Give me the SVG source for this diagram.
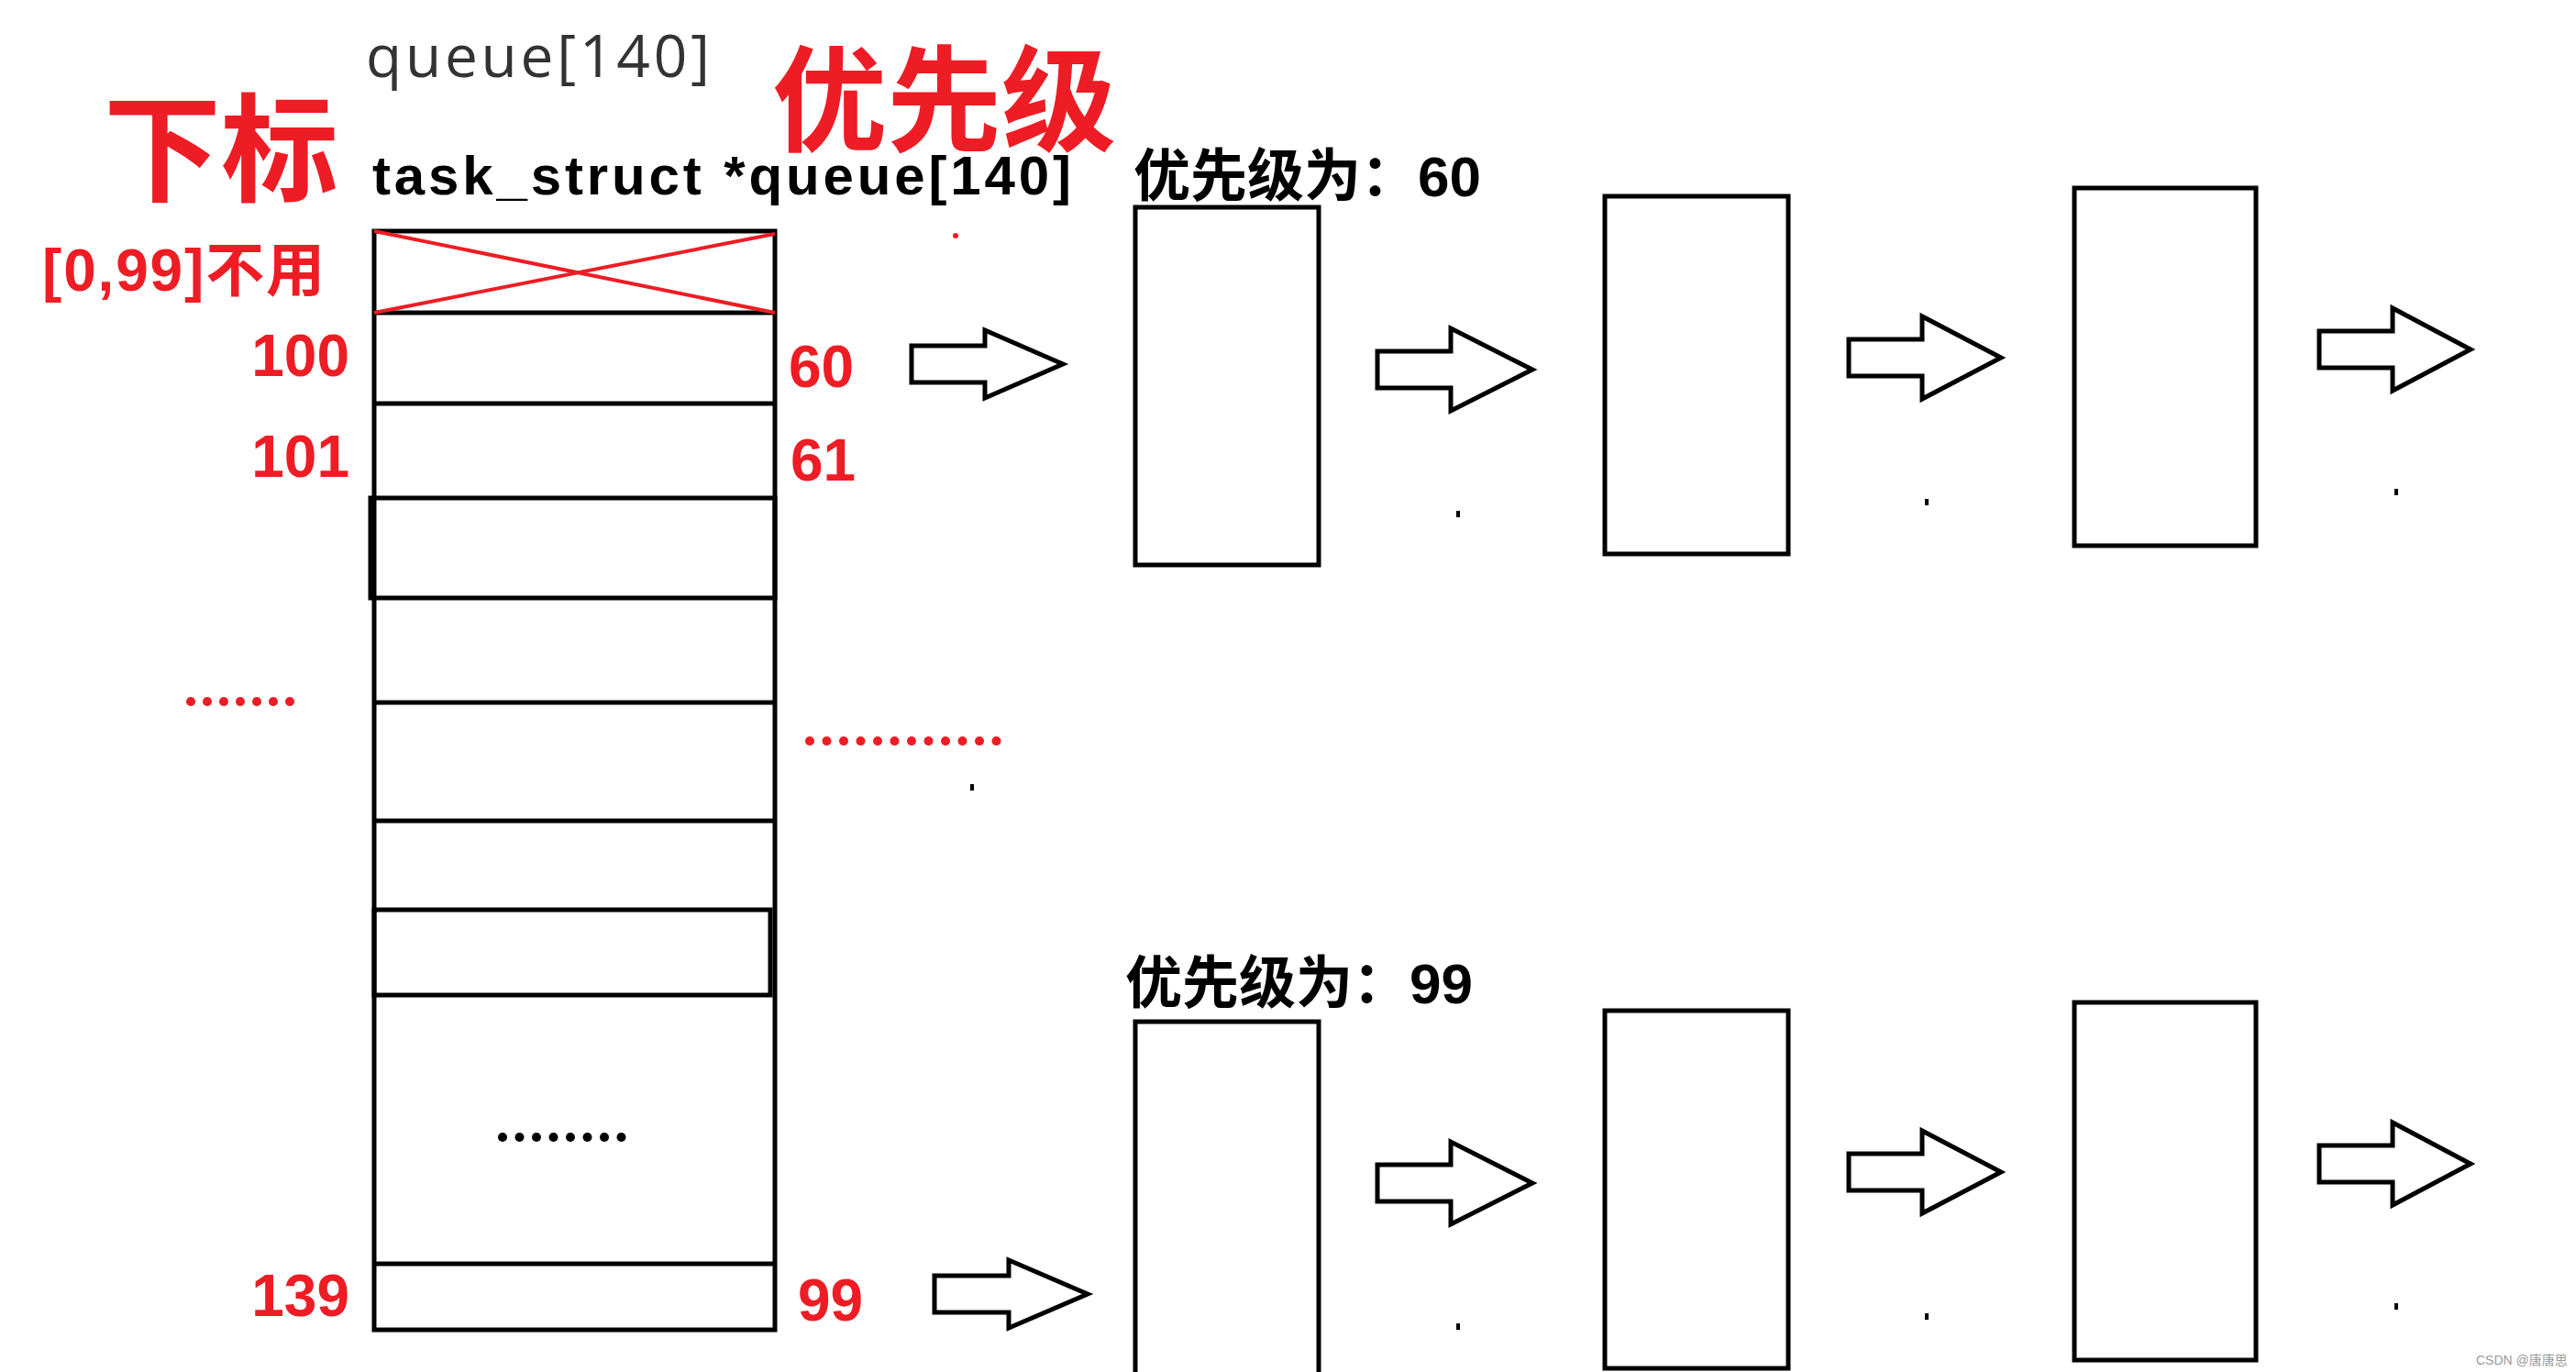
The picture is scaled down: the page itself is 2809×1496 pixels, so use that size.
<svg xmlns="http://www.w3.org/2000/svg" width="2809" height="1496" viewBox="0 0 2809 1496">
<style>
.k{fill:none;stroke:#000;stroke-width:5}
.ar{fill:#fff;stroke:#000;stroke-width:5;stroke-linejoin:miter}
.red{fill:#ee1c24;font-family:"Liberation Sans","Noto Sans CJK SC",sans-serif;font-weight:bold}
.blk{fill:#000;font-family:"Liberation Sans","Noto Sans CJK SC",sans-serif;font-weight:bold}
.dot{fill:#000}
.rd{fill:#ee1c24}
</style>
<rect width="2809" height="1496" fill="#fff"/>
<text x="399" y="84" font-family="Open Sans,Liberation Sans,sans-serif" font-size="64" fill="#333" textLength="375">queue[140]</text>
<text class="red" x="113" y="210" font-size="128">下标</text>
<text class="red" x="842" y="155" font-size="125">优先级</text>
<text class="blk" x="406" y="212" font-size="60" textLength="762">task_struct *queue[140]</text>
<text class="red" x="46" y="317" font-size="64" textLength="308">[0,99]不用</text>
<text class="red" x="381" y="410" font-size="64" text-anchor="end">100</text>
<text class="red" x="381" y="520" font-size="64" text-anchor="end">101</text>
<text class="red" x="381" y="1435" font-size="64" text-anchor="end">139</text>
<text class="red" x="860" y="422" font-size="64">60</text>
<text class="red" x="862" y="524" font-size="64">61</text>
<text class="red" x="870" y="1440" font-size="64">99</text>
<g class="rd">
<circle cx="208" cy="765" r="5"/><circle cx="226" cy="765" r="5"/><circle cx="244" cy="765" r="5"/><circle cx="262" cy="765" r="5"/><circle cx="280" cy="765" r="5"/><circle cx="298" cy="765" r="5"/><circle cx="316" cy="765" r="5"/>
<circle cx="883" cy="808" r="5"/><circle cx="901.5" cy="808" r="5"/><circle cx="920" cy="808" r="5"/><circle cx="938.5" cy="808" r="5"/><circle cx="957" cy="808" r="5"/><circle cx="975.5" cy="808" r="5"/><circle cx="994" cy="808" r="5"/><circle cx="1012.5" cy="808" r="5"/><circle cx="1031" cy="808" r="5"/><circle cx="1049.5" cy="808" r="5"/><circle cx="1068" cy="808" r="5"/><circle cx="1086.5" cy="808" r="5"/>
</g>
<g class="dot">
<circle cx="548" cy="1240" r="5"/><circle cx="566.5" cy="1240" r="5"/><circle cx="585" cy="1240" r="5"/><circle cx="603.5" cy="1240" r="5"/><circle cx="622" cy="1240" r="5"/><circle cx="640.5" cy="1240" r="5"/><circle cx="659" cy="1240" r="5"/><circle cx="677.5" cy="1240" r="5"/>
</g>
<g id="queue">
<rect class="k" x="408" y="252" width="437" height="1198"/>
<line class="k" x1="408" y1="341" x2="845" y2="341"/>
<line class="k" x1="408" y1="440" x2="845" y2="440"/>
<rect class="k" x="404" y="543" width="441" height="109"/>
<line class="k" x1="408" y1="766" x2="845" y2="766"/>
<line class="k" x1="408" y1="895" x2="845" y2="895"/>
<rect class="k" x="408" y="992" width="432" height="93"/>
<line class="k" x1="408" y1="1378" x2="845" y2="1378"/>
<line x1="408" y1="252" x2="845" y2="341" stroke="#ee1c24" stroke-width="4"/>
<line x1="408" y1="341" x2="845" y2="255" stroke="#ee1c24" stroke-width="4"/>
</g>
<circle cx="1042" cy="257" r="3" fill="#ee1c24"/>
<rect class="dot" x="1058" y="855" width="4" height="7"/>
<text class="blk" x="1236" y="214" font-size="62">优先级为：60</text>
<text class="blk" x="1227" y="1094" font-size="62">优先级为：99</text>
<g id="n1"><rect class="k" x="1238" y="226" width="200" height="390"/></g>
<g id="n2"><rect class="k" x="1750" y="214" width="200" height="390"/></g>
<g id="n3"><rect class="k" x="2262" y="205" width="198" height="390"/></g>
<g id="n4"><rect class="k" x="1238" y="1114" width="200" height="390"/></g>
<g id="n5"><rect class="k" x="1750" y="1102" width="200" height="390"/></g>
<g id="n6"><rect class="k" x="2262" y="1093" width="198" height="390"/></g>
<g id="connectors">
<path class="ar" d="M994,377 H1074 V360 L1159,397 L1074,434 V417 H994 Z"/>
<path class="ar" d="M1502,383 H1582 V358 L1671,403 L1582,448 V423 H1502 Z"/>
<path class="ar" d="M2016,370 H2096 V345 L2182,390 L2096,435 V410 H2016 Z"/>
<path class="ar" d="M2529,361 H2609 V336 L2694,381 L2609,426 V401 H2529 Z"/>
<path class="ar" d="M1019,1391 H1100 V1374 L1186,1411 L1100,1448 V1431 H1019 Z"/>
<path class="ar" d="M1502,1270 H1582 V1245 L1671,1290 L1582,1335 V1310 H1502 Z"/>
<path class="ar" d="M2016,1258 H2096 V1233 L2182,1278 L2096,1323 V1298 H2016 Z"/>
<path class="ar" d="M2529,1249 H2609 V1224 L2694,1269 L2609,1314 V1289 H2529 Z"/>
</g>
<rect class="dot" x="1588" y="557" width="4" height="7"/>
<rect class="dot" x="2099" y="544" width="4" height="7"/>
<rect class="dot" x="2611" y="533" width="4" height="7"/>
<rect class="dot" x="1588" y="1443" width="4" height="7"/>
<rect class="dot" x="2099" y="1432" width="4" height="7"/>
<rect class="dot" x="2611" y="1421" width="4" height="7"/>
<text x="2700" y="1488" font-family="Liberation Sans,Noto Sans CJK SC,sans-serif" font-size="14" fill="#999">CSDN @唐唐思</text>
</svg>
